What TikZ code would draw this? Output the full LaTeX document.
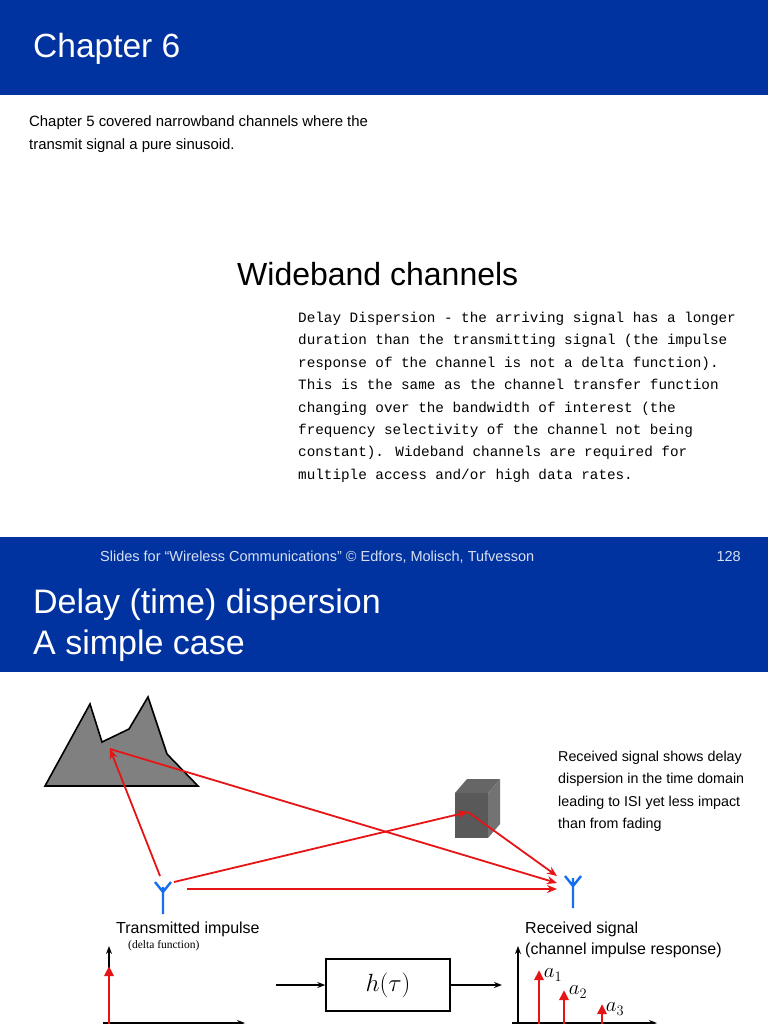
\documentclass[tikz,border=0pt]{standalone}
\usepackage{fontspec}
\setmainfont{Liberation Sans}
\newfontfamily\monof{Liberation Mono}
\newfontfamily\serf{Liberation Serif}
\usetikzlibrary{arrows.meta}
\definecolor{band}{RGB}{0,51,160}
\definecolor{ray}{RGB}{230,20,20}
\definecolor{ant}{RGB}{20,110,240}
\begin{document}
\begin{tikzpicture}[x=1pt,y=-1pt,
  ray/.style={draw=ray,line width=1.8pt,-{Stealth[length=10pt,width=8pt]}},
  ax/.style={draw=black,line width=1.4pt,-{Stealth[length=8pt,width=6pt]}},
  imp/.style={draw=ray,line width=2.6pt,-{Triangle[length=10pt,width=9pt]}},
  antst/.style={draw=ant,line width=2.4pt},
  lbl/.style={anchor=west,inner sep=0pt,font=\fontsize{16}{19}\selectfont}]
\useasboundingbox (0,0) rectangle (768,1024);
\fill[white] (0,0) rectangle (768,1024);
% header band
\fill[band] (0,0) rectangle (768,95);
\node[anchor=west,text=white,inner sep=0pt,font=\fontsize{33.5}{40}\selectfont] (ch) at (33,49) {Chapter 6};
\node[anchor=north west,inner sep=0pt,align=left,font=\fontsize{14.9}{22.5}\selectfont] (intro) at (29,116) {Chapter 5 covered narrowband channels where the\\transmit signal a pure sinusoid.};
\node[anchor=west,inner sep=0pt,font=\fontsize{32}{38}\selectfont] (wb) at (237,274) {Wideband channels};
\node[anchor=north west,inner sep=0pt,align=left,font=\monof\fontsize{14.3}{22.4}\selectfont] (mono) at (298,312) {Delay Dispersion - the arriving signal has a longer\\duration than the transmitting signal (the impulse\\response of the channel is not a delta function).\\This is the same as the channel transfer function\\changing over the bandwidth of interest (the\\frequency selectivity of the channel not being\\constant). Wideband channels are required for\\multiple access and/or high data rates.};
% second band
\fill[band] (0,537) rectangle (768,672);
\node[anchor=west,text=white!85!band,inner sep=0pt,font=\fontsize{14.5}{17}\selectfont] (foot) at (100,557) {Slides for “Wireless Communications” © Edfors, Molisch, Tufvesson};
\node[anchor=east,text=white!85!band,inner sep=0pt,font=\fontsize{14.5}{17}\selectfont] (pg) at (741,557) {128};
\node[anchor=west,text=white,inner sep=0pt,font=\fontsize{34}{40}\selectfont] (t1) at (33,605) {Delay (time) dispersion};
\node[anchor=west,text=white,inner sep=0pt,font=\fontsize{34}{40}\selectfont] (t2) at (33,646) {A simple case};
% mountain
\draw[fill=black!50,line width=1.6pt,line join=miter] (45,786) -- (90,704) -- (102,742) -- (129,729) -- (148,697) -- (167,754) -- (198,786) -- cycle;
% box
\fill[black!60] (455,793) -- (467,779) -- (500,779) -- (488,793) -- cycle;
\fill[black!55] (488,793) -- (500,779) -- (500,824) -- (488,838) -- cycle;
\fill[black!65] (455,793) rectangle (488,838);
% coordinates
\coordinate (mt) at (110,749);
\coordinate (bx) at (468,812);
% antennas
\draw[antst] (163,887) -- (163,914) (155,882) -- (163,892) -- (171,882);
\draw[antst] (573,878) -- (573,908) (565,876) -- (573,886) -- (581,876);
% rays
\draw[ray] (160,876) -- (mt);
\draw[ray] (mt) -- (557,883);
\draw[ray] (174,882) -- (bx);
\draw[ray] (bx) -- (557,876);
\draw[ray] (187,889) -- (557,889);
% text
\node[lbl] (txl) at (116,929) {Transmitted impulse};
\node[anchor=west,inner sep=0pt,font=\serf\fontsize{11.5}{13}\selectfont] (dl) at (128,946) {(delta function)};
\node[lbl] (rxl) at (525,929) {Received signal};
\node[lbl] (rxl2) at (525,950) {(channel impulse response)};
\node[anchor=north west,inner sep=0pt,align=left,font=\fontsize{14.3}{22.4}\selectfont] (note) at (558,751) {Received signal shows delay\\dispersion in the time domain\\leading to ISI yet less impact\\than from fading};
% left plot
\draw[ax] (109,1024) -- (109,946);
\draw[ax] (103,1023) -- (245,1023);
\draw[imp] (109,1024) -- (109,966);
% system box
\node[draw,line width=1.5pt,minimum width=124pt,minimum height=52pt,inner sep=0pt,font=\fontsize{23}{27}\selectfont] (h) at (388,985) {$h(\tau)$};
\coordinate (hin) at (276,985);
\coordinate (hout) at (502,985);
\draw[ax] (hin) -- (h.west);
\draw[ax] (h.east) -- (hout);
% right plot
\draw[ax] (518,1024) -- (518,946);
\draw[ax] (512,1023) -- (657,1023);
\draw[imp] (539,1024) -- (539,970);
\draw[imp] (564,1024) -- (564,990);
\draw[imp] (602,1024) -- (602,1004);
\node[inner sep=0pt,font=\fontsize{22}{26}\selectfont] (a1) at (553,975) {$a_1$};
\node[inner sep=0pt,font=\fontsize{22}{26}\selectfont] (a2) at (578,992) {$a_2$};
\node[inner sep=0pt,font=\fontsize{22}{26}\selectfont] (a3) at (615,1009) {$a_3$};
\end{tikzpicture}
\end{document}
